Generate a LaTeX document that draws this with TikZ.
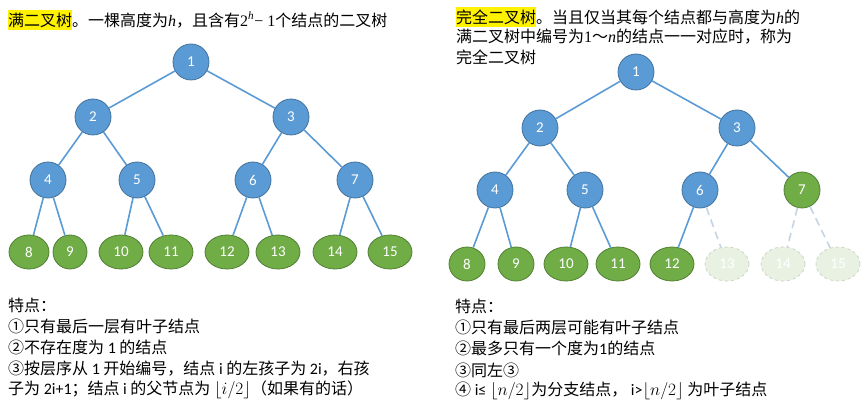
\documentclass[tikz,border=0pt]{standalone}
\usepackage{fontspec}
\setmainfont{Noto Sans CJK SC}
\newfontfamily\numfont{Carlito}
\newfontfamily\serfont{Liberation Serif}
\usetikzlibrary{shapes.geometric}
\definecolor{bfill}{HTML}{5B9BD5}
\definecolor{bline}{HTML}{41719C}
\definecolor{gfill}{HTML}{70AD47}
\definecolor{gline}{HTML}{507E32}
\definecolor{ffill}{HTML}{E9F1E3}
\definecolor{fline}{HTML}{C9D6C0}
\definecolor{fedge}{HTML}{C5D3E2}
\tikzset{
 inner/.style={circle,draw=bline,fill=bfill,line width=0.8pt,minimum size=36pt,inner sep=0pt,text=white,font=\numfont\fontsize{15}{15}\selectfont},
 leaf/.style={ellipse,draw=gline,fill=gfill,line width=0.8pt,minimum width=44pt,minimum height=34pt,inner sep=0pt,text=white,font=\numfont\fontsize{15}{15}\selectfont},
 gleaf/.style={circle,draw=gline,fill=gfill,line width=0.8pt,minimum size=36pt,inner sep=0pt,text=white,font=\numfont\fontsize{15}{15}\selectfont},
 ghost/.style={ellipse,draw=fline,fill=ffill,dashed,line width=0.8pt,minimum width=44pt,minimum height=34pt,inner sep=0pt,text=white,font=\numfont\fontsize{15}{15}\selectfont},
 edge/.style={draw=bfill,line width=1.6pt},
 gedge/.style={draw=fedge,line width=1.6pt,dash pattern=on 8pt off 5pt},
 txt/.style={anchor=west,inner sep=0pt,font=\fontsize{16}{16}\selectfont},
 btxt/.style={anchor=west,inner sep=0pt,font=\fontsize{16}{16}\selectfont},
}
\begin{document}
\begin{tikzpicture}[x=1pt,y=-1pt]
\useasboundingbox (0,0) rectangle (866,403);
% left tree
\node[inner] (a1) at (191,62) {1};
\node[inner] (a2) at (93,117) {2};
\node[inner] (a3) at (291,117) {3};
\node[inner] (a4) at (48,180) {4};
\node[inner] (a5) at (137,180) {5};
\node[inner] (a6) at (253,180) {6};
\node[inner] (a7) at (355,180) {7};
\node[leaf,minimum width=40pt] (a8) at (29,252) {8};
\node[leaf,minimum width=34pt] (a9) at (70,252) {9};
\node[leaf] (a10) at (121,252) {10};
\node[leaf] (a11) at (171,252) {11};
\node[leaf] (a12) at (227,252) {12};
\node[leaf] (a13) at (278,252) {13};
\node[leaf] (a14) at (335,252) {14};
\node[leaf] (a15) at (390,252) {15};
\foreach \p/\c in {a1/a2,a1/a3,a2/a4,a2/a5,a3/a6,a3/a7,a4/a8,a4/a9,a5/a10,a5/a11,a6/a12,a6/a13,a7/a14,a7/a15}
  \path[edge] (\p) -- (\c);
% right tree
\node[inner] (b1) at (636,72) {1};
\node[inner] (b2) at (540,128) {2};
\node[inner] (b3) at (737,128) {3};
\node[inner] (b4) at (495,190) {4};
\node[inner] (b5) at (585,190) {5};
\node[inner] (b6) at (700,190) {6};
\node[gleaf] (b7) at (802,190) {7};
\node[leaf,minimum width=36pt] (b8) at (467,264) {8};
\node[leaf,minimum width=36pt] (b9) at (516,264) {9};
\node[leaf] (b10) at (566,264) {10};
\node[leaf] (b11) at (618,264) {11};
\node[leaf] (b12) at (672,264) {12};
\node[ghost] (b13) at (727,264) {13};
\node[ghost] (b14) at (783,264) {14};
\node[ghost] (b15) at (838,264) {15};
\foreach \p/\c in {b1/b2,b1/b3,b2/b4,b2/b5,b3/b6,b3/b7,b4/b8,b4/b9,b5/b10,b5/b11,b6/b12}
  \path[edge] (\p) -- (\c);
\foreach \p/\c in {b6/b13,b7/b14,b7/b15}
  \path[gedge] (\p) -- (\c);
% top texts
\node[txt] (t1) at (8,20) {\colorbox{yellow}{\hspace*{-3pt}满二叉树\hspace*{-3pt}}。一棵高度为{\serfont\itshape h}，且含有{\serfont 2\textsuperscript{\itshape h}− 1}个结点的二叉树};
\node[txt] (t2) at (456,17) {\colorbox{yellow}{\hspace*{-3pt}完全二叉树\hspace*{-3pt}}。当且仅当其每个结点都与高度为{\serfont\itshape h}的};
\node[txt] (t3) at (456,37) {满二叉树中编号为{\serfont 1}～{\serfont\itshape n}的结点一一对应时，称为};
\node[txt] (t4) at (456,57) {完全二叉树};
% bottom left
\node[btxt] (l1) at (8,305) {特点：};
\node[btxt] (l2) at (8,326) {①只有最后一层有叶子结点};
\node[btxt] (l3) at (8,347) {②不存在度为 {\numfont 1} 的结点};
\node[btxt] (l4) at (8,369) {③按层序从 {\numfont 1} 开始编号，结点 {\numfont i} 的左孩子为 {\numfont 2i}，右孩};
\node[btxt] (l5) at (8,390) {子为 {\numfont 2i+1}；结点 {\numfont i} 的父节点为 $\lfloor i/2\rfloor$（如果有的话）};
% bottom right
\node[btxt] (r1) at (455,306) {特点：};
\node[btxt] (r2) at (455,327) {①只有最后两层可能有叶子结点};
\node[btxt] (r3) at (455,348) {②最多只有一个度为{\numfont 1}的结点};
\node[btxt] (r4) at (455,370) {③同左③};
\node[btxt] (r5) at (455,391) {④ {\numfont i≤} $\lfloor n/2\rfloor$为分支结点， {\numfont i>}$\lfloor n/2\rfloor$ 为叶子结点};
\end{tikzpicture}
\end{document}
